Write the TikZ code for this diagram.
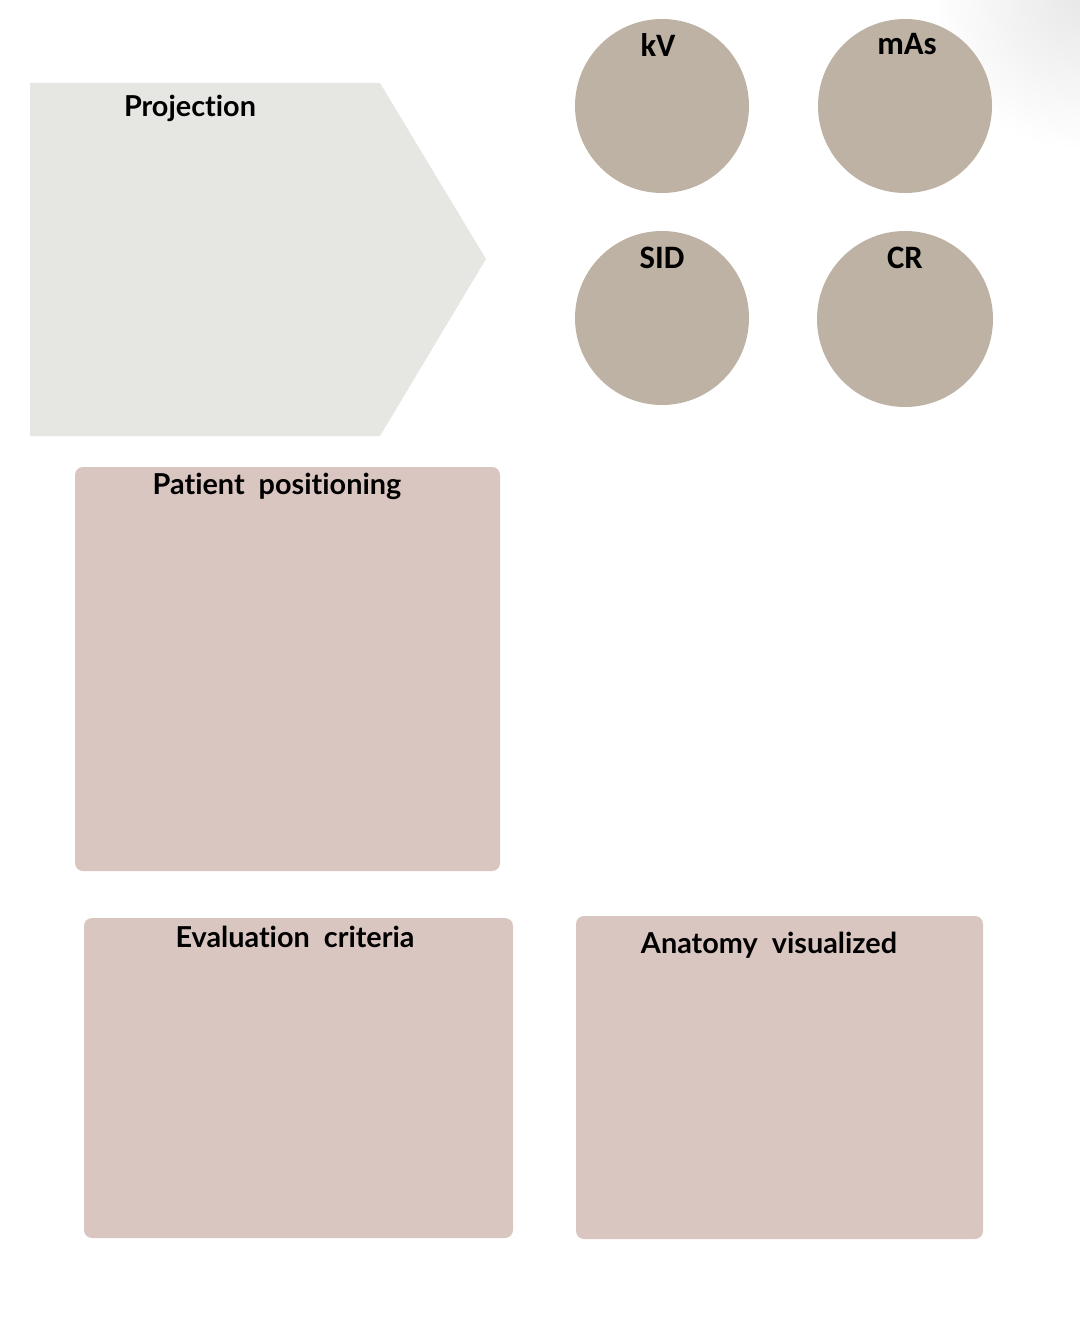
\documentclass[tikz,border=0pt]{standalone}
\usepackage{fontspec}
\setmainfont{Lato}[Ligatures={NoCommon,NoRare,NoContextual}]
\newfontfamily\dialfont{Carlito}
\usetikzlibrary{positioning}
\definecolor{projgrey}{HTML}{E6E6E3}
\definecolor{dialtaupe}{HTML}{BDB2A3}
\definecolor{cardrose}{HTML}{DAC6C1}
\tikzset{
  dial/.style={fill=dialtaupe},
  dialtext/.style={font=\dialfont\bfseries\fontsize{9.3}{11}\selectfont, inner sep=0pt},
  card/.style={fill=cardrose, rounded corners=0.08cm},
  cardtext/.style={font=\bfseries\fontsize{8.2}{10}\selectfont, inner sep=0pt},
}
\begin{document}
\begin{tikzpicture}
            \useasboundingbox (0.000000,0.000000) rectangle (10.800000,-13.310000);

            % Faint shadow in the top right corner
            \begin{scope}
            \clip (9.400000,0.000000) rectangle (10.800000,-1.600000);
            \shade [inner color=black!9, outer color=white] (10.800000,0.000000) circle (1.500000);
            \end{scope}

            % Drawing the projection arrow
            \fill [projgrey] (0.300000,-0.830000) -- (3.800000,-0.830000) -- (4.860000,-2.590000) -- (3.800000,-4.360000) -- (0.300000,-4.360000) -- cycle;%
            \node [cardtext] (proj) at (1.900000,-1.080000) {Projection};%

            % Drawing the four dials
            \fill [dial] (6.620000,-1.060000) circle (0.870000);%
            \node [dialtext] (kv) at (6.580000,-0.450000) {kV};%

            \fill [dial] (9.050000,-1.060000) circle (0.870000);%
            \node [dialtext] (mas) at (9.070000,-0.440000) {mAs};%

            \fill [dial] (6.620000,-3.180000) circle (0.870000);%
            \node [dialtext] (sid) at (6.620000,-2.580000) {SID};%

            \fill [dial] (9.050000,-3.190000) circle (0.880000);%
            \node [dialtext] (cr) at (9.050000,-2.580000) {CR};%

            % Drawing card Patient positioning
            \fill [card] (0.750000,-4.670000) rectangle (5.000000,-8.710000);%
            \node [cardtext] (pos) at (2.770000,-4.860000) {Patient\ \ positioning};%

            % Drawing card Evaluation criteria
            \fill [card] (0.840000,-9.180000) rectangle (5.130000,-12.380000);%
            \node [cardtext] (eval) at (2.950000,-9.370000) {Evaluation\ \ criteria};%

            % Drawing card Anatomy visualized
            \fill [card] (5.760000,-9.160000) rectangle (9.830000,-12.390000);%
            \node [cardtext] (anat) at (7.690000,-9.450000) {Anatomy\ \ visualized};%
\end{tikzpicture}
\end{document}
